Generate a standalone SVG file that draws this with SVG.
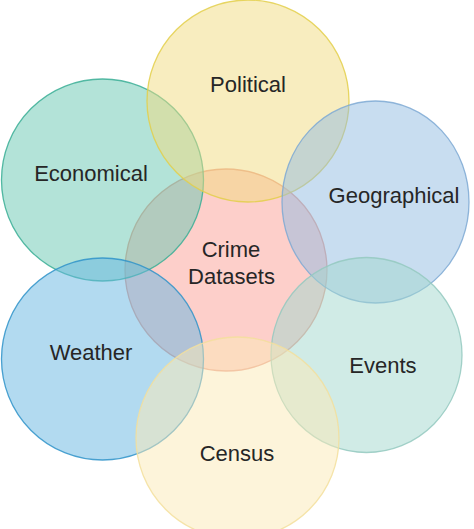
<svg xmlns="http://www.w3.org/2000/svg" width="474" height="529" viewBox="0 0 474 529">
<style>
.c{fill-opacity:0.5;stroke-width:1.3;stroke-opacity:0.85}
text{font-family:"Liberation Sans",Arial,sans-serif;font-size:22px;fill:#262626;text-anchor:middle}
</style>
<rect width="474" height="529" fill="#ffffff"/>
<g id="crime">
<circle class="c" cx="226" cy="270" r="101" fill="#fb9f95" stroke="#e89585"/>
<text x="231" y="257">Crime</text>
<text x="231.5" y="284">Datasets</text>
</g>
<g id="economical">
<circle class="c" cx="102.5" cy="180" r="101" fill="#67c7b1" stroke="#3aae95"/>
<text x="91" y="181">Economical</text>
</g>
<g id="political">
<circle class="c" cx="248" cy="101" r="101" fill="#f1db7f" stroke="#e3cf4a"/>
<text x="248" y="92">Political</text>
</g>
<g id="geographical">
<ellipse class="c" cx="375.5" cy="202" rx="93.5" ry="101" fill="#91bbe1" stroke="#7ea9d3"/>
<text x="394" y="203">Geographical</text>
</g>
<g id="weather">
<circle class="c" cx="102.5" cy="359" r="101" fill="#65b5e1" stroke="#2f93c9"/>
<text x="91" y="360">Weather</text>
</g>
<g id="events">
<ellipse class="c" cx="366.5" cy="355" rx="95.5" ry="97.5" fill="#a1d7cd" stroke="#94c9bf"/>
<text x="383" y="373">Events</text>
</g>
<g id="census">
<ellipse class="c" cx="237.5" cy="438" rx="101.5" ry="101" fill="#fbe9b5" stroke="#f3df9c"/>
<text x="237" y="461">Census</text>
</g>
</svg>
